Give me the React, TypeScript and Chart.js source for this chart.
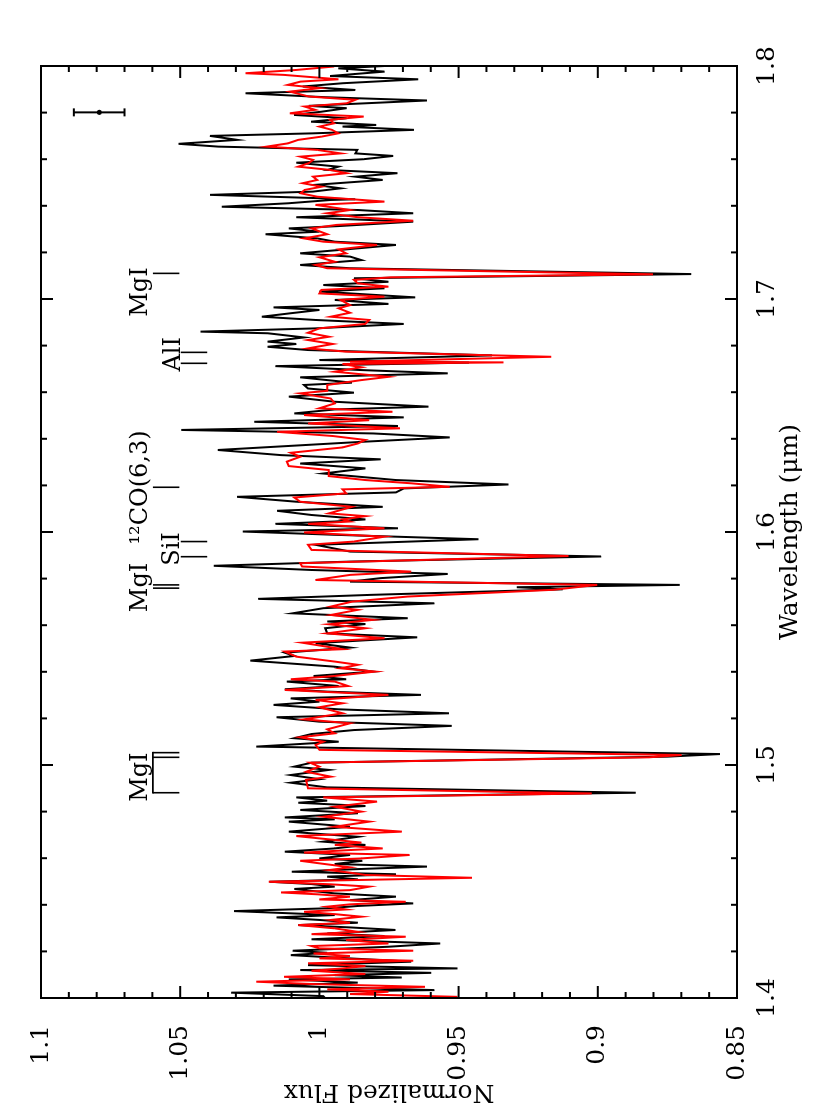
import React, { useEffect, useRef } from "react";
import { Chart, registerables } from "chart.js";

Chart.register(...registerables);

// Axis ticks
const wavelengthTicks = [1.4, 1.5, 1.6, 1.7, 1.8];
const fluxTicks = [0.85, 0.9, 0.95, 1.0, 1.05, 1.1];

// Black spectrum: [wavelength (um), normalized flux]
const blackPoints: [number, number][] = [
  [1.4, 0.998], [1.4008, 0.9986], [1.4023, 1.0317], [1.4034, 0.9587], [1.4053, 1.0165], [1.4066, 0.9862],
  [1.408, 1.011], [1.4088, 0.9704], [1.4098, 0.9945], [1.4108, 0.9598], [1.412, 1.0069], [1.4127, 0.9504],
  [1.4141, 1.0041], [1.4156, 0.967], [1.417, 0.989], [1.4184, 1.0103], [1.4194, 0.9972], [1.4203, 1.0096],
  [1.422, 0.9752], [1.4234, 0.9566], [1.4252, 1.0028], [1.4266, 0.9766], [1.4277, 0.9972], [1.4292, 0.9727],
  [1.4303, 0.989], [1.4313, 1.0076], [1.4323, 0.9862], [1.4335, 1.0], [1.4346, 1.0154], [1.4356, 0.9945],
  [1.4373, 1.0307], [1.4385, 0.9972], [1.4395, 0.9862], [1.4406, 0.9663], [1.442, 0.989], [1.4435, 0.9725],
  [1.4449, 0.9945], [1.4468, 1.009], [1.4478, 0.9945], [1.4489, 1.0028], [1.4499, 1.0179], [1.4509, 0.9862],
  [1.4521, 0.9972], [1.4531, 0.9725], [1.4542, 1.0099], [1.4552, 0.989], [1.4564, 0.9614], [1.4575, 0.9945],
  [1.4589, 0.9846], [1.4599, 1.0], [1.4614, 0.989], [1.4628, 1.0124], [1.4642, 0.9945], [1.4657, 0.9835],
  [1.4671, 0.9986], [1.4692, 0.9862], [1.4714, 1.011], [1.4735, 0.989], [1.4757, 1.011], [1.4767, 0.9945],
  [1.4775, 1.0124], [1.4793, 0.9862], [1.4807, 1.0069], [1.4824, 0.9835], [1.4838, 1.0076], [1.4847, 0.9972],
  [1.4861, 1.0083], [1.4881, 0.8864], [1.4904, 0.9972], [1.4924, 1.0103], [1.4939, 1.0], [1.4957, 1.0103],
  [1.4979, 0.9966], [1.4993, 1.009], [1.501, 1.0028], [1.5036, 0.8747], [1.5047, 0.8561], [1.5079, 1.0227],
  [1.51, 0.9931], [1.5115, 1.009], [1.5133, 1.0028], [1.515, 0.9876], [1.5168, 0.9525], [1.5186, 1.0],
  [1.5205, 1.0154], [1.5222, 0.9535], [1.5239, 0.9931], [1.5258, 1.0165], [1.5272, 1.0], [1.5286, 1.0103],
  [1.5301, 0.9635], [1.5315, 0.9972], [1.5325, 1.0124], [1.5339, 0.9931], [1.5358, 1.0117],
  [1.5368, 0.9904], [1.5382, 1.0021], [1.5401, 0.9807], [1.5422, 0.9945], [1.5448, 1.0248], [1.5468, 1.009],
  [1.5482, 1.0124], [1.5504, 0.989], [1.5523, 1.0014], [1.5548, 0.9649], [1.5565, 0.9972], [1.5587, 0.9979],
  [1.5605, 0.9835], [1.5616, 0.9972], [1.563, 0.9683], [1.5651, 1.0096], [1.5673, 0.9986], [1.5694, 0.9587],
  [1.5713, 1.022], [1.573, 0.9821], [1.5754, 0.9126], [1.5763, 0.9291], [1.5773, 0.8706], [1.5787, 0.989],
  [1.5802, 0.978], [1.582, 0.9539], [1.5837, 1.0028], [1.5855, 1.0379], [1.5873, 0.989], [1.5895, 0.8988],
  [1.5916, 0.989], [1.5945, 1.0014], [1.5969, 0.9429], [1.5988, 0.9945], [1.6002, 1.0275], [1.6016, 0.9718],
  [1.6035, 1.0158], [1.6045, 0.9945],
  [1.6054, 0.9835], [1.6073, 1.0028], [1.6091, 1.0152], [1.6108, 0.9773], [1.613, 1.0083], [1.6151, 1.0296],
  [1.617, 0.9725], [1.6187, 0.9697], [1.6204, 0.9321], [1.6223, 0.9725], [1.6251, 0.9986], [1.6273, 0.9835],
  [1.6294, 1.0069], [1.6312, 0.978], [1.633, 1.0138], [1.6352, 1.0365], [1.6373, 1.0055], [1.6387, 0.9849],
  [1.6406, 0.9532], [1.6423, 0.9807], [1.6438, 1.0496], [1.6455, 0.9718], [1.6473, 1.0234], [1.6492, 0.9697],
  [1.6509, 1.009], [1.6526, 0.9945], [1.6538, 0.9608], [1.6559, 0.9945], [1.6581, 1.011], [1.6598, 0.9876],
  [1.6616, 1.0041], [1.6631, 1.0055], [1.6641, 0.9883], [1.6664, 1.0069], [1.6681, 0.9539], [1.6695, 0.9849],
  [1.6712, 1.0158], [1.6727, 0.9463],
  [1.6738, 1.0], [1.6758, 0.938], [1.6781, 1.0041], [1.6795, 1.0186], [1.6807, 1.0083], [1.6817, 1.0186],
  [1.6835, 1.0055], [1.6853, 1.0186], [1.686, 1.0427], [1.6874, 1.0014], [1.6893, 0.9697], [1.691, 1.0014],
  [1.6924, 1.0207], [1.6938, 1.011], [1.6953, 1.0], [1.6964, 1.0165], [1.6979, 0.9752], [1.6996, 0.9945],
  [1.7007, 0.9656], [1.7032, 1.0], [1.7046, 0.9766], [1.706, 0.9986], [1.7074, 0.9752], [1.7089, 0.9876],
  [1.7107, 0.8664], [1.7132, 0.989], [1.7146, 1.0069], [1.7167, 0.9849], [1.7182, 0.989], [1.7196, 1.0069],
  [1.7213, 0.9904], [1.7232, 0.9725], [1.7246, 0.9945], [1.726, 1.0007], [1.7278, 1.0193], [1.7289, 1.0],
  [1.7303, 1.011], [1.7313, 0.9931], [1.7332, 0.9663], [1.7351, 1.0083], [1.7368, 0.9663], [1.7382, 0.9862],
  [1.7396, 1.0351], [1.7411, 1.011], [1.7425, 0.9959],
  [1.7428, 0.9871], [1.7447, 1.0393], [1.7461, 1.0023], [1.7475, 0.9924], [1.749, 1.0015], [1.7511, 0.9773],
  [1.7525, 0.9871], [1.754, 0.972], [1.7554, 0.997], [1.7568, 0.9932], [1.7585, 1.0083], [1.76, 0.9841],
  [1.7614, 0.9735], [1.7625, 0.9871], [1.764, 0.9864], [1.7654, 1.0363], [1.7666, 1.0506], [1.7683, 1.0295],
  [1.77, 1.0393], [1.7711, 1.0023], [1.7726, 0.966], [1.774, 0.9917], [1.7747, 0.9796], [1.7761, 1.003],
  [1.7776, 0.9902], [1.779, 1.0091], [1.7804, 0.9992], [1.7819, 0.9902], [1.7829, 1.0038], [1.784, 0.9834],
  [1.7852, 0.9614], [1.7866, 0.9977], [1.7883, 1.0265], [1.7897, 0.9871], [1.7912, 1.006], [1.7926, 0.9917],
  [1.7943, 0.9645], [1.7957, 0.9962], [1.7976, 0.9766], [1.799, 0.9932], [1.8, 0.9766],
];

// Red spectrum: [wavelength (um), normalized flux]
const redPoints: [number, number][] = [
  [1.4, 0.955], [1.4005, 0.9504], [1.4017, 0.989], [1.4027, 0.9752], [1.4037, 0.9972], [1.4048, 0.9621],
  [1.406, 1.0028], [1.407, 1.0227], [1.408, 0.989], [1.4091, 1.0127], [1.4103, 0.9835], [1.4117, 1.0028],
  [1.4127, 0.9917], [1.4137, 0.9835], [1.4149, 1.0041], [1.416, 0.9663], [1.417, 1.0], [1.418, 0.989],
  [1.4191, 1.0021], [1.4203, 0.9663], [1.4213, 1.0], [1.4223, 1.0028], [1.4234, 0.9752], [1.4249, 0.9904],
  [1.4263, 0.969], [1.4274, 1.0028], [1.4284, 0.9862], [1.4299, 0.9945], [1.4313, 1.0076], [1.4323, 0.989],
  [1.4335, 0.9959], [1.4349, 0.9849], [1.436, 0.9945], [1.437, 1.0055], [1.438, 0.9904], [1.4392, 0.9972],
  [1.4402, 0.989], [1.4413, 0.969], [1.4423, 1.0], [1.4435, 0.989], [1.4445, 1.0007], [1.4453, 1.0138],
  [1.4463, 0.989], [1.4478, 0.9821], [1.4488, 0.9959], [1.4499, 1.0182], [1.4516, 0.9452], [1.4528, 0.9835],
  [1.4538, 0.989], [1.4549, 0.9966], [1.4561, 0.989], [1.4578, 1.0], [1.4589, 1.0069], [1.4599, 0.9849],
  [1.4614, 0.9676], [1.4624, 1.0055], [1.4635, 0.989], [1.4642, 0.9773], [1.4657, 0.9945], [1.4667, 0.9849],
  [1.4695, 1.0083], [1.4714, 0.9704], [1.4735, 0.9945], [1.4757, 0.9821], [1.4778, 0.9986], [1.48, 0.9849],
  [1.4821, 0.9945], [1.4843, 0.9793], [1.4861, 0.9986], [1.4878, 0.9022], [1.49, 1.0041], [1.4936, 1.0048],
  [1.495, 0.9959], [1.4971, 1.0048], [1.4993, 1.0], [1.501, 1.0034], [1.5033, 0.8816], [1.5043, 0.8699],
  [1.5065, 1.0], [1.5086, 1.0014], [1.51, 0.9986], [1.5119, 1.0069], [1.5136, 0.9945], [1.5153, 0.9972],
  [1.5179, 0.989], [1.5196, 1.0055], [1.5222, 0.9917], [1.5248, 1.0], [1.5265, 0.9917], [1.5279, 1.0014],
  [1.5301, 0.9752], [1.5322, 1.0124], [1.5339, 0.9897], [1.5358, 0.9945],
  [1.5368, 1.0103], [1.5382, 0.9945], [1.5401, 0.98], [1.5415, 0.9924], [1.543, 0.9862], [1.5444, 0.9945],
  [1.5465, 1.0083], [1.5487, 1.0124], [1.5497, 0.9917], [1.5525, 1.0062], [1.5544, 0.9766], [1.5565, 0.9972],
  [1.5587, 0.9835], [1.5604, 0.9966], [1.5623, 0.9807], [1.5644, 0.9959], [1.5666, 0.9862], [1.568, 0.9959],
  [1.5701, 0.9883], [1.5723, 0.9683], [1.5752, 0.916], [1.5773, 0.9002], [1.5794, 1.0014], [1.5816, 0.989],
  [1.583, 0.967], [1.5852, 1.0062], [1.5866, 1.0069], [1.5897, 0.9105], [1.5923, 1.0028], [1.5945, 1.0041],
  [1.5959, 0.9876], [1.598, 0.9766], [1.5998, 1.0055], [1.6016, 0.9766], [1.6035, 1.0041], [1.6045, 0.989],
  [1.6054, 0.9917], [1.6068, 0.9835], [1.608, 0.9966], [1.6108, 0.9883], [1.613, 1.0069], [1.6148, 1.009],
  [1.6166, 0.9904], [1.6183, 0.9917], [1.6194, 0.9532], [1.6209, 0.967], [1.6223, 0.9835], [1.624, 0.9966],
  [1.6266, 0.9966], [1.6283, 1.011], [1.6302, 1.0117], [1.6323, 1.0069], [1.634, 1.0103], [1.6363, 0.9917],
  [1.638, 0.9862], [1.6395, 0.9835], [1.6412, 0.9952], [1.643, 1.0152], [1.6445, 0.9711], [1.6466, 1.0041],
  [1.648, 0.9821], [1.6502, 1.0055], [1.6516, 0.9738], [1.6531, 1.0], [1.6552, 0.9945], [1.6573, 0.9959],
  [1.6595, 1.0069], [1.6606, 0.9972], [1.6631, 0.9972], [1.6652, 0.9849], [1.6666, 0.9752], [1.6688, 0.9945],
  [1.6707, 0.9849], [1.6721, 0.9917], [1.6728, 0.9339],
  [1.6731, 0.989], [1.6752, 0.9167], [1.6774, 0.9904], [1.6788, 1.0041], [1.6807, 0.9952], [1.6824, 1.0041],
  [1.6838, 0.9966], [1.6855, 1.0041], [1.6874, 1.0], [1.6893, 0.9835], [1.691, 0.9821], [1.6924, 0.9959],
  [1.6941, 0.989], [1.696, 0.9931], [1.6974, 0.989], [1.6996, 0.9924], [1.701, 0.9766], [1.7024, 1.0],
  [1.7039, 0.9993], [1.7053, 0.9752], [1.7067, 0.9862], [1.7082, 0.9876], [1.7093, 0.9745], [1.7106, 0.8802],
  [1.7132, 0.9972], [1.7146, 1.0014], [1.716, 0.9945], [1.7179, 1.0], [1.7196, 0.9904], [1.7213, 0.9931],
  [1.7232, 0.9793], [1.7246, 0.9986], [1.726, 1.0055], [1.7278, 0.9972], [1.7303, 1.0028], [1.7318, 0.9938],
  [1.7336, 0.9663], [1.7351, 0.9862], [1.7368, 0.9972], [1.7382, 0.989], [1.7404, 1.0014], [1.7418, 0.9766],
  [1.7439, 1.0008], [1.7454, 1.0068], [1.7468, 1.0053], [1.7482, 0.9992], [1.7497, 1.006], [1.7511, 1.0008],
  [1.7525, 1.0023], [1.754, 0.9902], [1.7554, 0.9962], [1.7568, 1.0076], [1.7583, 1.0038], [1.7597, 1.0023],
  [1.7611, 1.0068], [1.7625, 0.9924], [1.764, 1.0008], [1.7654, 1.0189], [1.7668, 1.0113], [1.7683, 1.0076],
  [1.7697, 0.9992], [1.7711, 0.9932], [1.7726, 0.9955], [1.774, 1.0], [1.7754, 0.9947], [1.7769, 0.9962],
  [1.7783, 0.9841], [1.7797, 1.0106], [1.7812, 1.0015], [1.7826, 1.0053], [1.784, 0.9902], [1.7855, 0.9871],
  [1.7869, 1.0038], [1.789, 1.0106], [1.7905, 1.0], [1.7919, 1.0113], [1.7933, 1.0068], [1.7943, 0.9932],
  [1.7962, 1.0129], [1.7969, 1.0265], [1.7983, 1.0083], [1.7998, 0.9947],
];

// Line identifications
const mgIBracketWaves = [1.4881, 1.5033, 1.5053];
const mgIPairWaves = [1.5759, 1.5773];
const siIWaves = [1.5894, 1.5959];
const coWaves = [1.6192];
const alIWaves = [1.6724, 1.6771];
const mgISingleWaves = [1.711];
const upperMarkFlux = [1.0503, 1.0598];
const lowerMarkFlux = [1.0403, 1.0498];
const lineLabels = ["MgI", "MgI", "SiI", "\u00B9\u00B2CO(6,3)", "AlI", "MgI"];
const lineLabelWaves = [1.4948, 1.5762, 1.5927, 1.6191, 1.6763, 1.703];
const lineLabelFlux = [1.062, 1.062, 1.0505, 1.062, 1.05, 1.062];

// Typical error bar
const errorBarWave = 1.7801;
const errorBarFlux = 1.0791;
const errorBarHalf = 0.0091;

const fmt = (v: number) => String(Number(Number(v).toFixed(2)));
const FONT = "DejaVu Serif";

export default function App() {
  const ref = useRef<HTMLCanvasElement>(null);

  useEffect(() => {
    document.body.style.margin = "0";
    const canvas = ref.current;
    if (!canvas) return;

    const framePlugin = {
      id: "frameAndMarks",
      afterDatasetsDraw(chart: any) {
        const { ctx, chartArea: a, scales } = chart;
        const xs = scales.x;
        const ys = scales.y;
        const seg = (x1: number, y1: number, x2: number, y2: number) => {
          ctx.beginPath();
          ctx.moveTo(x1, y1);
          ctx.lineTo(x2, y2);
          ctx.stroke();
        };
        ctx.save();
        ctx.strokeStyle = "#000";
        ctx.fillStyle = "#000";
        ctx.lineWidth = 2;
        ctx.strokeRect(a.left, a.top, a.right - a.left, a.bottom - a.top);
        // wavelength ticks (major 0.1, minor 0.02)
        for (let i = 1; i < 20; i++) {
          const px = xs.getPixelForValue(1.4 + i * 0.02);
          const len = i % 5 === 0 ? 12 : 6;
          seg(px, a.bottom, px, a.bottom - len);
          seg(px, a.top, px, a.top + len);
        }
        // flux ticks (major 0.05, minor 0.01)
        for (let i = 1; i < 25; i++) {
          const py = ys.getPixelForValue(0.85 + i * 0.01);
          const len = i % 5 === 0 ? 12 : 6;
          seg(a.left, py, a.left + len, py);
          seg(a.right, py, a.right - len, py);
        }
        // line identification marks
        ctx.lineWidth = 1.6;
        const upper = [...mgIBracketWaves, ...mgIPairWaves, ...coWaves, ...mgISingleWaves];
        const lower = [...siIWaves, ...alIWaves];
        const uy1 = ys.getPixelForValue(upperMarkFlux[0]);
        const uy2 = ys.getPixelForValue(upperMarkFlux[1]);
        const ly1 = ys.getPixelForValue(lowerMarkFlux[0]);
        const ly2 = ys.getPixelForValue(lowerMarkFlux[1]);
        upper.forEach((w) => {
          const px = xs.getPixelForValue(w);
          seg(px, uy1, px, uy2);
        });
        lower.forEach((w) => {
          const px = xs.getPixelForValue(w);
          seg(px, ly1, px, ly2);
        });
        seg(
          xs.getPixelForValue(Math.min(...mgIBracketWaves)) - 0.8,
          uy2,
          xs.getPixelForValue(Math.max(...mgIBracketWaves)) + 0.8,
          uy2
        );
        ctx.font = `24px '${FONT}'`;
        ctx.textAlign = "center";
        ctx.textBaseline = "alphabetic";
        lineLabels.forEach((t, i) => {
          ctx.fillText(t, xs.getPixelForValue(lineLabelWaves[i]), ys.getPixelForValue(lineLabelFlux[i]));
        });
        // error bar
        ctx.lineWidth = 2;
        const ex = xs.getPixelForValue(errorBarWave);
        const eTop = ys.getPixelForValue(errorBarFlux + errorBarHalf);
        const eBot = ys.getPixelForValue(errorBarFlux - errorBarHalf);
        seg(ex, eTop, ex, eBot);
        seg(ex - 4, eTop, ex + 4, eTop);
        seg(ex - 4, eBot, ex + 4, eBot);
        ctx.beginPath();
        ctx.arc(ex, ys.getPixelForValue(errorBarFlux), 2.5, 0, Math.PI * 2);
        ctx.fill();
        ctx.restore();
      },
    };

    const chart = new Chart(canvas, {
      type: "scatter",
      data: {
        datasets: [
          {
            label: "red",
            data: redPoints.map(([x, y]) => ({ x, y })),
            showLine: true,
            borderColor: "#ff0000",
            backgroundColor: "#ff0000",
            borderWidth: 2,
            pointRadius: 0,
            order: 0,
          },
          {
            label: "black",
            data: blackPoints.map(([x, y]) => ({ x, y })),
            showLine: true,
            borderColor: "#000000",
            backgroundColor: "#000000",
            borderWidth: 2,
            pointRadius: 0,
            order: 1,
          },
        ],
      },
      options: {
        responsive: false,
        animation: false,
        layout: { padding: { left: 0, right: 66, top: 41, bottom: 0 } },
        plugins: { legend: { display: false }, tooltip: { enabled: false } },
        elements: { line: { tension: 0 }, point: { radius: 0 } },
        scales: {
          x: {
            type: "linear",
            position: "bottom",
            min: 1.4,
            max: 1.8,
            afterBuildTicks: (s: any) => {
              s.ticks = wavelengthTicks.map((v) => ({ value: v }));
            },
            afterFit: (s: any) => {
              s.height = 93;
            },
            grid: { display: false },
            border: { display: false },
            ticks: {
              padding: 7,
              color: "#000",
              autoSkip: false,
              maxRotation: 0,
              font: { family: FONT, size: 25 },
              callback: (v: any) => fmt(v),
            },
            title: {
              display: true,
              text: "Wavelength (\u03BCm)",
              color: "#000",
              font: { family: FONT, size: 25 },
              padding: { top: 0, bottom: 25 },
            },
          },
          y: {
            type: "linear",
            position: "left",
            min: 0.85,
            max: 1.1,
            afterBuildTicks: (s: any) => {
              s.ticks = fluxTicks.map((v) => ({ value: v }));
            },
            afterFit: (s: any) => {
              s.width = 113;
            },
            grid: { display: false },
            border: { display: false },
            ticks: {
              padding: 19,
              color: "#000",
              autoSkip: false,
              font: { family: FONT, size: 25 },
              callback: (v: any) => fmt(v),
            },
            title: {
              display: true,
              text: "Normalized Flux",
              color: "#000",
              font: { family: FONT, size: 25 },
              padding: { top: 4, bottom: 0 },
            },
          },
        },
      } as any,
      plugins: [framePlugin],
    });

    return () => chart.destroy();
  }, []);

  return (
    <div
      style={{
        position: "fixed",
        left: 0,
        top: 0,
        width: 1111,
        height: 830,
        transformOrigin: "0 0",
        transform: "translateY(1111px) rotate(-90deg)",
        background: "#ffffff",
      }}
    >
      <canvas ref={ref} width={1111} height={830} style={{ display: "block", width: 1111, height: 830 }} />
    </div>
  );
}
